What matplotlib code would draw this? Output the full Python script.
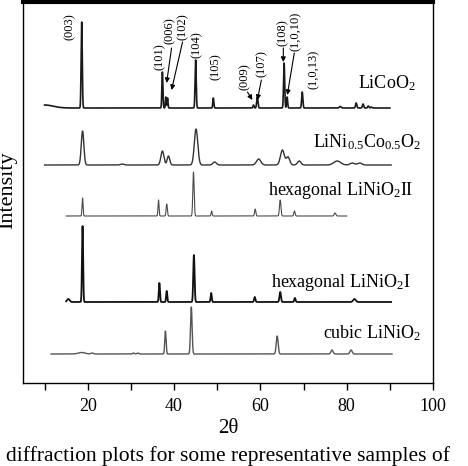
import matplotlib
matplotlib.use("Agg")
import matplotlib.pyplot as plt
import numpy as np

plt.rcParams['font.family'] = ['Liberation Serif', 'DejaVu Serif']
plt.rcParams['mathtext.default'] = 'regular'

# sample names, vertical offsets and 2theta range of each scan
sample_labels = [
    "LiCoO$_2$",
    "LiNi$_{0.5}$Co$_{0.5}$O$_2$",
    "hexagonal LiNiO$_2$II",
    "hexagonal LiNiO$_2$I",
    "cubic LiNiO$_2$",
]
sample_offsets = [275, 218, 167, 81, 29]
sample_ranges = [(10, 90), (10, 90.3), (15, 80), (15, 90.3), (11.5, 90.5)]

# peak positions (2theta), heights and widths
licoo2_pos = [10.0, 18.6, 37.3, 38.1, 38.5, 45.0, 49.1, 58.4, 59.3, 65.5, 66.2,
              69.7, 78.5, 82.2, 83.8, 85.0, 85.7]
licoo2_height = [3, 86, 36, 11, 10, 48, 10, 3, 11, 45, 11, 16, 1.5, 5, 4, 2, 1]
licoo2_width = [2.0, 0.13, 0.12, 0.1, 0.1, 0.13, 0.12, 0.12, 0.15, 0.13, 0.12,
                0.14, 0.2, 0.15, 0.15, 0.15, 0.15]

lini_pos = [18.8, 28.0, 37.3, 38.7, 45.1, 49.4, 59.6, 65.1, 66.4, 69.0, 77.8,
            81.3, 83.0]
lini_height = [34, 1, 14, 9, 36, 3, 6, 15, 8, 4, 4, 2, 2]
lini_width = [0.3, 0.4, 0.35, 0.3, 0.4, 0.4, 0.5, 0.45, 0.4, 0.4, 0.8, 0.5, 0.5]

hex2_pos = [18.8, 36.4, 38.3, 44.5, 48.7, 58.8, 64.6, 67.9, 77.3]
hex2_height = [18, 16, 12, 44, 5, 7, 16, 5, 3]
hex2_width = [0.12, 0.12, 0.14, 0.15, 0.12, 0.15, 0.17, 0.15, 0.2]

hex1_pos = [15.5, 18.8, 36.6, 38.3, 44.6, 48.6, 58.7, 64.6, 68.0, 81.8]
hex1_height = [3, 76, 19, 11, 47, 9, 5, 10, 4, 3]
hex1_width = [0.3, 0.13, 0.13, 0.13, 0.15, 0.13, 0.15, 0.17, 0.15, 0.3]

cubic_pos = [18.6, 21.0, 30.6, 31.6, 38.0, 44.0, 63.9, 76.6, 81.0]
cubic_height = [1.5, 1, 1, 1, 23, 47, 18, 4, 4]
cubic_width = [0.8, 0.3, 0.2, 0.2, 0.15, 0.18, 0.22, 0.25, 0.25]

# Miller index labels on the LiCoO2 pattern
hkl_labels = ["(003)", "(101)", "(006)", "(102)", "(104)", "(105)",
              "(009)", "(107)", "(108)", "(1,0,10)", "(1,0,13)"]
hkl_x = [15.8, 36.65, 38.96, 41.97, 45.2, 49.6, 56.3, 60.23, 65.09, 68.32, 72.49]
hkl_y = [356, 326, 352, 356, 338, 316, 306, 319, 350, 352, 314]

# arrows from label to peak
arrow_from_x = [39.42, 41.97, 57.0, 60.23, 65.32, 67.86]
arrow_from_y = [335, 341, 291, 303, 335, 330]
arrow_to_x = [38.27, 39.42, 58.15, 59.31, 65.32, 66.24]
arrow_to_y = [300, 293, 283, 283, 321, 288]

caption = "diffraction plots for some representative samples of"


def pattern(two_theta, pos, height, width):
    """
    sum of peaks for one scan
    """
    y = np.zeros_like(two_theta)
    for p, h, w in zip(pos, height, width):
        y += h * np.exp(-0.5 * ((two_theta - p) / w) ** 2)
    return y


def main():
    """
    main function
    """
    fig = plt.figure(figsize=(4.68, 4.66), dpi=100)
    ax = fig.add_axes([23 / 468, 83 / 466, 410 / 468, 381 / 466])

    peaks = [
        (licoo2_pos, licoo2_height, licoo2_width),
        (lini_pos, lini_height, lini_width),
        (hex2_pos, hex2_height, hex2_width),
        (hex1_pos, hex1_height, hex1_width),
        (cubic_pos, cubic_height, cubic_width),
    ]
    colors = ["#1a1a1a", "#333333", "#4a4a4a", "#111111", "#555555"]
    widths = [1.2, 1.0, 0.8, 1.3, 1.0]

    for (pos, h, w), off, (lo, hi), c, lw in zip(
            peaks, sample_offsets, sample_ranges, colors, widths):
        tt = np.linspace(lo, hi, 5000)
        ax.plot(tt, off + pattern(tt, pos, h, w), color=c, lw=lw)

    label_x = [96.1, 97.2, 95.4, 94.9, 97.2]
    label_y = [295, 236, 188, 96, 45]
    for text, x, y in zip(sample_labels, label_x, label_y):
        ax.text(x, y, text, ha='right', va='baseline', fontsize=13)

    for text, x, y in zip(hkl_labels, hkl_x, hkl_y):
        ax.text(x, y, text, rotation=90, ha='center', va='center', fontsize=9)

    for x0, y0, x1, y1 in zip(arrow_from_x, arrow_from_y, arrow_to_x, arrow_to_y):
        ax.annotate("", xy=(x1, y1), xytext=(x0, y0),
                    arrowprops=dict(arrowstyle='-|>', lw=0.8, color='black',
                                    mutation_scale=7, shrinkA=0, shrinkB=0))

    ax.set_xlim(5, 100)
    ax.set_ylim(0, 381)
    ax.set_xticks([20, 40, 60, 80, 100])
    ax.set_xticks([10, 30, 50, 70, 90], minor=True)
    ax.set_yticks([])
    ax.tick_params(axis='x', which='both', direction='out', length=5, width=1,
                   labelsize=13, pad=6)
    for side in ['left', 'right', 'bottom']:
        ax.spines[side].set_linewidth(1)
    ax.spines['top'].set_linewidth(3)
    ax.set_xlabel("2θ", fontsize=15, labelpad=3)

    fig.text(8 / 468, 276 / 466, "Intensity", rotation=90, fontsize=16,
             ha='center', va='center')
    fig.text(6 / 468, 5 / 466, caption, fontsize=15.5, ha='left',
             va='baseline')

    fig.savefig("out.png", dpi=100)


if __name__ == '__main__':
    main()
